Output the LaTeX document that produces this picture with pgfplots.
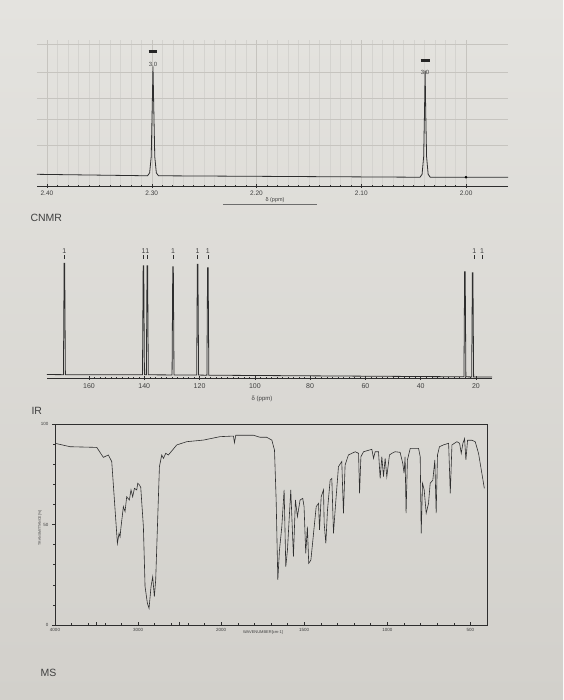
\documentclass[border=0pt]{standalone}
\usepackage{pgfplots}
\pgfplotsset{compat=1.18}
\usepackage{fontspec}
\setmainfont{Liberation Sans}
\definecolor{ink}{HTML}{2E2E2E}
\definecolor{txt}{HTML}{404040}
\definecolor{gridc}{HTML}{C6C4BF}
\definecolor{bgtop}{HTML}{E4E3DF}
\definecolor{bgbot}{HTML}{D2D0CB}
\begin{document}
\begin{tikzpicture}
\shade[top color=bgtop, bottom color=bgbot] (0pt,0pt) rectangle (563pt,700pt);
\useasboundingbox (0pt,0pt) rectangle (563pt,700pt);

% ---------------- 1H NMR (expansion) ----------------
\begin{axis}[
  at={(37pt,514pt)}, anchor=south west,
  scale only axis, width=471pt, height=146pt,
  xmin=1.960, xmax=2.4095, ymin=0, ymax=100,
  x dir=reverse,
  axis x line*=bottom, axis y line=none,
  x axis line style={-, draw=ink, line width=0.7pt},
  xtick={2.0,2.1,2.2,2.3,2.4},
  minor x tick num=9,
  xmajorgrids, xminorgrids,
  major grid style={gridc, line width=0.4pt},
  minor grid style={gridc!75, line width=0.3pt},
  major tick length=4pt, minor tick length=2.5pt,
  xtick align=center,
  tick style={draw=ink, line width=0.4pt},
  xticklabel style={/pgf/number format/.cd, fixed, fixed zerofill, precision=2, /tikz/.cd, text=txt, font=\fontsize{6.5}{7}\selectfont, yshift=1pt},
  /pgf/number format/assume math mode=true,
  clip=false,
]
\draw[gridc, line width=0.4pt] (axis cs:2.4095,97) -- (axis cs:1.960,97);
\draw[gridc, line width=0.4pt] (axis cs:2.4095,78) -- (axis cs:1.960,78);
\draw[gridc, line width=0.4pt] (axis cs:2.4095,60) -- (axis cs:1.960,60);
\draw[gridc, line width=0.4pt] (axis cs:2.4095,46) -- (axis cs:1.960,46);
\draw[gridc, line width=0.4pt] (axis cs:2.4095,28) -- (axis cs:1.960,28);
\addplot[ink, line width=0.8pt] coordinates {
 (2.4095,8) (2.3040,7) (2.3020,9) (2.3005,20) (2.2995,55) (2.2988,82)
 (2.2981,55) (2.2971,20) (2.2956,9) (2.2936,7)
 (2.0440,6) (2.0420,8) (2.0405,20) (2.0397,50) (2.0391,79) (2.0385,50)
 (2.0377,20) (2.0362,8) (2.0342,6) (1.960,6)
};
\addplot[black!85, line width=2.6pt] coordinates {(2.3030,92) (2.2946,92)};
\addplot[black!85, line width=2.6pt] coordinates {(2.0433,86) (2.0349,86)};
\addplot[only marks, mark=*, mark size=1.1pt, black] coordinates {(2.00,6)};
\node[text=txt, font=\fontsize{6}{7}\selectfont] at (axis cs:2.2988,83) {3.0};
\node[text=txt, font=\fontsize{6}{7}\selectfont] at (axis cs:2.0391,77.5) {3.0};
\end{axis}
\node[text=txt, font=\fontsize{5.5}{6}\selectfont] at (275pt,499.5pt) {δ (ppm)};
\draw[ink!70, line width=0.4pt] (223pt,496pt) -- (317pt,496pt);

% ---------------- 13C NMR ----------------
\node[anchor=west, text=txt, font=\fontsize{10.5}{12}\selectfont] at (27pt,482pt) {CNMR};
\begin{axis}[
  at={(47pt,322pt)}, anchor=south west,
  scale only axis, width=445pt, height=133pt,
  xmin=14.2, xmax=175.2, ymin=0, ymax=100,
  x dir=reverse,
  axis x line*=bottom, axis y line=none,
  x axis line style={-, draw=ink, line width=0.8pt},
  xtick={20,40,60,80,100,120,140,160},
  minor x tick num=9,
  major tick length=4pt, minor tick length=2pt,
  xtick align=center,
  tick style={draw=ink, line width=0.4pt},
  xticklabel style={text=txt, font=\fontsize{7}{8}\selectfont},
  /pgf/number format/assume math mode=true,
  clip=false,
]
\addplot[ink, line width=0.8pt] coordinates {
 (175.2,2.6)
 (169.25,2.5) (169.0,86.2) (168.8,86.2) (168.55,2.5)
 (140.65,2.4) (140.4,84.4) (140.2,84.4) (139.95,2.4)
 (139.25,2.4) (139.0,84.4) (138.8,84.4) (138.55,2.4)
 (129.95,2.3) (129.7,83.7) (129.5,83.7) (129.25,2.3)
 (121.05,2.2) (120.8,85.5) (120.6,85.5) (120.35,2.2)
 (117.35,2.1) (117.1,82.9) (116.9,82.9) (116.65,2.1)
 (24.35,0.9) (24.1,79.9) (23.9,79.9) (23.65,0.9)
 (21.55,0.8) (21.3,79.2) (21.1,79.2) (20.85,0.8)
 (14.2,0.7)
};
\addplot[only marks, mark=|, mark size=1.8pt, ink, line width=0.4pt] coordinates {
 (168.9,91) (140.3,91) (138.9,91) (129.6,91) (120.7,91) (117.0,91) (20.6,91) (17.8,91)
};
\node[text=txt, font=\fontsize{7}{8}\selectfont, inner sep=0pt] at (axis cs:168.9,95.5) {1};
\node[text=txt, font=\fontsize{7}{8}\selectfont, inner sep=0pt] at (axis cs:140.3,95.5) {1};
\node[text=txt, font=\fontsize{7}{8}\selectfont, inner sep=0pt] at (axis cs:138.9,95.5) {1};
\node[text=txt, font=\fontsize{7}{8}\selectfont, inner sep=0pt] at (axis cs:129.6,95.5) {1};
\node[text=txt, font=\fontsize{7}{8}\selectfont, inner sep=0pt] at (axis cs:120.7,95.5) {1};
\node[text=txt, font=\fontsize{7}{8}\selectfont, inner sep=0pt] at (axis cs:117.0,95.5) {1};
\node[text=txt, font=\fontsize{7}{8}\selectfont, inner sep=0pt] at (axis cs:20.6,95.5) {1};
\node[text=txt, font=\fontsize{7}{8}\selectfont, inner sep=0pt] at (axis cs:17.8,95.5) {1};
\end{axis}
\node[text=txt, font=\fontsize{6}{7}\selectfont] at (262pt,301pt) {δ (ppm)};

% ---------------- IR ----------------
\node[anchor=west, text=txt, font=\fontsize{10.5}{12}\selectfont] at (28pt,289pt) {IR};
\begin{axis}[
  at={(55pt,75pt)}, anchor=south west,
  scale only axis, width=432pt, height=201pt,
  xmin=0, xmax=5200, ymin=0, ymax=100,
  x filter/.expression={x>=2000 ? 4000-x : 6000-2*x},
  axis line style={draw=ink, line width=0.6pt},
  xtick={0,1000,2000,3000,4000,5000},
  xticklabels={4000,3000,2000,1500,1000,500},
  extra x ticks={500,1500}, extra x tick labels={},
  minor xtick={200,400,600,800,1200,1400,1600,1800,2200,2400,2600,2800,3200,3400,3600,3800,4200,4400,4600,4800,5200},
  ytick={0,50,100}, yticklabels={0,50,100},
  minor ytick={10,20,30,40,60,70,80,90},
  major tick length=3pt, minor tick length=2pt,
  xtick align=inside, ytick align=outside,
  xtick pos=bottom, ytick pos=left,
  tick style={draw=ink, line width=0.4pt},
  tick label style={text=txt, font=\fontsize{4.5}{5}\selectfont},
  /pgf/number format/assume math mode=true,
]
\addplot[ink, line width=0.6pt] coordinates {
 (4000,90.4) (3819,88.7) (3538,88.4) (3498,88.4) (3418,83.4) (3358,84.6)
 (3317,81.3) (3285,62.2) (3249,40.6) (3229,45.6) (3217,43.9) (3205,48.9)
 (3177,58.9) (3157,56.4) (3137,63.8) (3105,62.2) (3085,67.2) (3065,63.8)
 (3044,68.0) (3016,67.2) (3004,70.5) (2984,69.7) (2968,68.5) (2936,48.9)
 (2916,19.1) (2888,10.8) (2868,8.3) (2844,19.1) (2824,24.0) (2804,14.1)
 (2788,22.4) (2767,48.9) (2743,78.8) (2715,84.6) (2695,82.9) (2667,85.4)
 (2635,84.6) (2534,89.6) (2414,91.2) (2213,92.0) (2013,93.7) (1926,94.0)
 (1920,90.7) (1912,94.4) (1806,94.4) (1766,93.4) (1726,93.4) (1695,92.0)
 (1679,87.0) (1669,62.2) (1659,22.4) (1649,37.3) (1635,48.9) (1621,67.2)
 (1611,29.0) (1601,37.3) (1581,67.2) (1565,34.0) (1553,62.2) (1541,53.9)
 (1525,62.2) (1509,63.0) (1501,58.9) (1491,35.7) (1481,48.9) (1473,30.7)
 (1460,32.3) (1444,45.6) (1428,58.9) (1414,60.5) (1408,47.3) (1398,63.8)
 (1384,67.2) (1380,50.6) (1370,40.6) (1360,57.2) (1344,72.1) (1334,72.9)
 (1324,45.6) (1314,57.2) (1294,78.8) (1274,81.3) (1264,55.6) (1254,79.6)
 (1234,84.6) (1193,86.2) (1173,85.4) (1167,65.5) (1159,83.7) (1143,86.2)
 (1093,87.4) (1083,82.9) (1073,86.2) (1053,86.2) (1043,72.9) (1033,83.7)
 (1023,73.8) (1013,82.9) (1003,73.8) (987,84.6) (973,85.4) (953,86.2)
 (923,85.9) (907,80.4) (899,75.5) (893,83.7) (887,55.6) (879,82.1)
 (862,87.9) (812,87.9) (802,83.7) (796,45.6) (788,70.5) (778,67.2)
 (766,55.6) (752,60.5) (742,70.5) (726,72.1) (714,82.1) (706,55.6)
 (698,84.6) (686,88.7) (662,89.6) (631,90.4) (621,65.5) (611,89.6)
 (581,91.2) (565,90.4) (555,85.4) (545,90.4) (535,92.7) (527,82.1)
 (517,91.9) (491,91.9) (471,91.2) (451,85.4) (431,75.5) (416,68.0)
};
\end{axis}
\node[text=txt, font=\fontsize{4}{4.5}\selectfont] at (263pt,68pt) {WAVENUMBER[cm-1]};
\node[text=txt, font=\fontsize{3.5}{4}\selectfont, rotate=90] at (40pt,172pt) {TRANSMITTANCE[\%]};

% ---------------- MS ----------------
\node[anchor=west, text=txt, font=\fontsize{10.5}{12}\selectfont] at (37pt,27pt) {MS};
\end{tikzpicture}
\end{document}
